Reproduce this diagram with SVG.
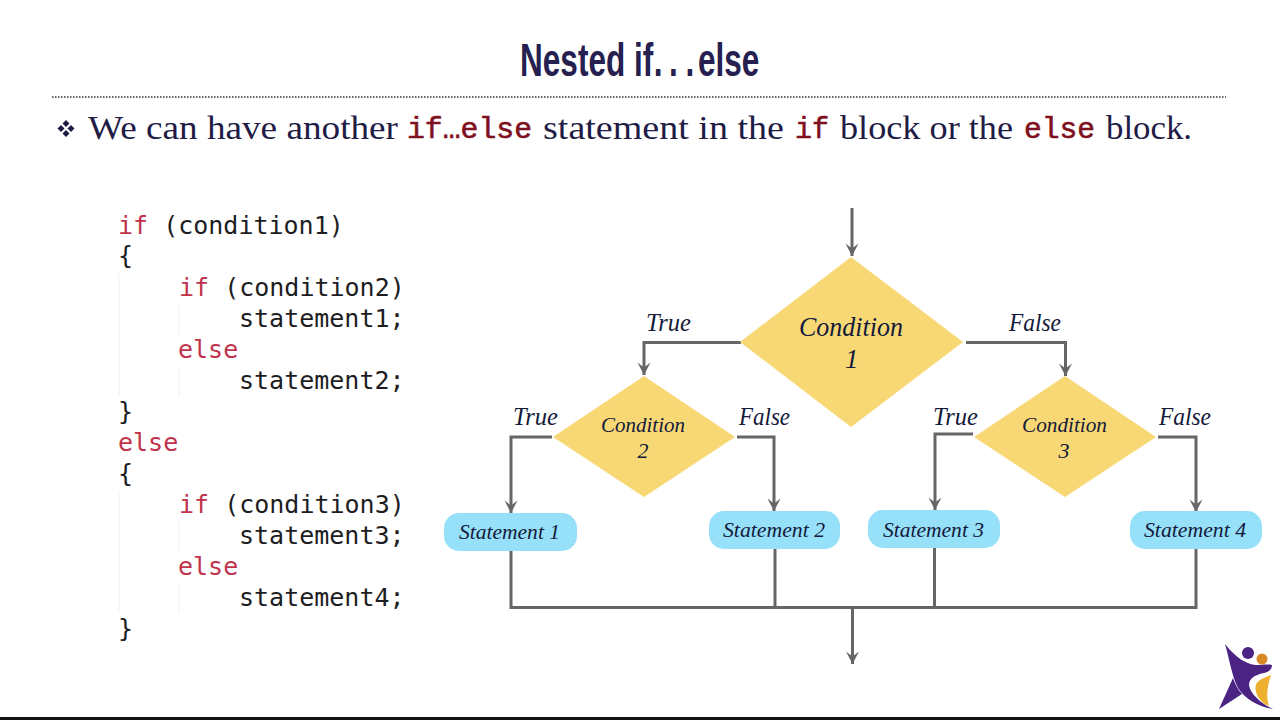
<svg xmlns="http://www.w3.org/2000/svg" width="1280" height="720" viewBox="0 0 1280 720">
<defs>
<marker id="arr" markerUnits="userSpaceOnUse" markerWidth="14" markerHeight="14" refX="13" refY="7" orient="auto" viewBox="0 0 14 14"><path d="M0.500 0.500 L13 7 L0.500 13.500 L5.500 7 Z" fill="#666666"/></marker>
</defs>
<style>
.code{font-family:"DejaVu Sans Mono",monospace;font-size:25px;fill:#1d1d1f}
.kw{fill:#c0334d}
.sub{font-family:"Liberation Serif",serif;font-size:33px;fill:#1f1c46}
.mono{font-family:"Liberation Mono",monospace;font-size:30px;fill:#7f1020;stroke:#7f1020;stroke-width:0.6}
.fl{font-family:"Liberation Serif",serif;font-style:italic;fill:#141a3a}
.lab{font-size:26px}
.c1{font-size:27px}
.c2{font-size:22px}
.st{font-size:21px}
.d{fill:#f8d875}
.s{fill:#97e0fa}
.cn{fill:none;stroke:#666666;stroke-width:3}
.guide{stroke:#f0f0f0;stroke-width:1}
.ttl{font-family:"Liberation Sans",sans-serif;font-weight:bold;font-size:46px;fill:#25204f}
</style>
<rect width="1280" height="720" fill="#ffffff"/>
<rect x="0" y="717" width="1280" height="3" fill="#111111"/>
<g id="title">
<text class="ttl" transform="translate(520 76) scale(0.686 1)" x="0" y="0">Nested if<tspan x="194.800 217.200 241.400">...</tspan><tspan x="259.500">else</tspan></text>
<line x1="52" y1="97" x2="1226" y2="97" stroke="#333333" stroke-width="1.5" stroke-dasharray="1.500 1.500"/>
</g>
<g id="bullet">
<g fill="#1f1c46"><path d="M66 120 l3.500 3.500 l-3.500 3.500 l-3.500 -3.500Z"/><path d="M66 130 l3.500 3.500 l-3.500 3.500 l-3.500 -3.500Z"/><path d="M61 125 l3.500 3.500 l-3.500 3.500 l-3.500 -3.500Z"/><path d="M71 125 l3.500 3.500 l-3.500 3.500 l-3.500 -3.500Z"/></g>
<text class="sub" x="88" y="138.500" textLength="310" lengthAdjust="spacingAndGlyphs">We can have another</text>
<text class="mono" x="407" y="138" textLength="125" lengthAdjust="spacingAndGlyphs">if…else</text>
<text class="sub" x="543" y="138.500" textLength="241" lengthAdjust="spacingAndGlyphs">statement in the</text>
<text class="mono" x="795" y="138" textLength="34" lengthAdjust="spacingAndGlyphs">if</text>
<text class="sub" x="840" y="138.500" textLength="173" lengthAdjust="spacingAndGlyphs">block or the</text>
<text class="mono" x="1024" y="138" textLength="71" lengthAdjust="spacingAndGlyphs">else</text>
<text class="sub" x="1106" y="138.500" textLength="86" lengthAdjust="spacingAndGlyphs">block.</text>
</g>
<g id="code" xml:space="preserve">
<line class="guide" x1="119" y1="273" x2="119" y2="396"/>
<line class="guide" x1="179" y1="305" x2="179" y2="334"/>
<line class="guide" x1="179" y1="367" x2="179" y2="396"/>
<line class="guide" x1="119" y1="490" x2="119" y2="613"/>
<line class="guide" x1="179" y1="522" x2="179" y2="551"/>
<line class="guide" x1="179" y1="584" x2="179" y2="613"/>
<text class="code" x="118" y="234"><tspan class="kw">if</tspan> (condition1)</text>
<text class="code" x="118" y="264">{</text>
<text class="code" x="179" y="296"><tspan class="kw">if</tspan> (condition2)</text>
<text class="code" x="239" y="327">statement1;</text>
<text class="code kw" x="178" y="358">else</text>
<text class="code" x="239" y="389">statement2;</text>
<text class="code" x="118" y="420">}</text>
<text class="code kw" x="118" y="451">else</text>
<text class="code" x="118" y="482">{</text>
<text class="code" x="179" y="513"><tspan class="kw">if</tspan> (condition3)</text>
<text class="code" x="239" y="544">statement3;</text>
<text class="code kw" x="178" y="575">else</text>
<text class="code" x="239" y="606">statement4;</text>
<text class="code" x="118" y="637">}</text>
</g>
<g id="connectors" class="connectors">
<path class="cn" d="M852 208 V256" marker-end="url(#arr)"/>
<path class="cn" d="M741 342.500 H644 V375" marker-end="url(#arr)"/>
<path class="cn" d="M966 342.500 H1065.500 V376" marker-end="url(#arr)"/>
<path class="cn" d="M552 437 H511 V513" marker-end="url(#arr)"/>
<path class="cn" d="M737 437 H774 V511" marker-end="url(#arr)"/>
<path class="cn" d="M973 434 H935 V510" marker-end="url(#arr)"/>
<path class="cn" d="M1158 437 H1196 V512" marker-end="url(#arr)"/>
<path class="cn" d="M511 551 V607.500 H1196 V548"/>
<path class="cn" d="M775 547 V607.500"/>
<path class="cn" d="M934.500 548 V607.500"/>
<path class="cn" d="M852.500 607.500 V664" marker-end="url(#arr)"/>
</g>
<g id="cond1"><polygon class="d" points="851,257 963,342 851,427 740,342"/><text class="fl c1" x="799" y="336" textLength="104" lengthAdjust="spacingAndGlyphs">Condition</text><text class="fl c1" x="845" y="368">1</text></g>
<g id="cond2"><polygon class="d" points="644,376 735,437 644,497 553,437"/><text class="fl c2" x="601" y="432" textLength="84" lengthAdjust="spacingAndGlyphs">Condition</text><text class="fl c2" x="637.500" y="458">2</text></g>
<g id="cond3"><polygon class="d" points="1065,376 1156,437 1065,497 974,437"/><text class="fl c2" x="1022" y="432" textLength="85" lengthAdjust="spacingAndGlyphs">Condition</text><text class="fl c2" x="1058.500" y="458">3</text></g>
<g id="st1"><rect class="s" x="444" y="513" width="133" height="38" rx="15"/><text class="fl st" x="459" y="539" textLength="101" lengthAdjust="spacingAndGlyphs">Statement 1</text></g>
<g id="st2"><rect class="s" x="709" y="511" width="131" height="38" rx="15"/><text class="fl st" x="723" y="537" textLength="102" lengthAdjust="spacingAndGlyphs">Statement 2</text></g>
<g id="st3"><rect class="s" x="868" y="510" width="132" height="38" rx="15"/><text class="fl st" x="883" y="537" textLength="101" lengthAdjust="spacingAndGlyphs">Statement 3</text></g>
<g id="st4"><rect class="s" x="1130" y="511" width="132" height="38" rx="15"/><text class="fl st" x="1144" y="537" textLength="102" lengthAdjust="spacingAndGlyphs">Statement 4</text></g>
<g id="labels">
<text class="fl lab" x="646" y="331" textLength="45" lengthAdjust="spacingAndGlyphs">True</text>
<text class="fl lab" x="1009" y="331" textLength="52" lengthAdjust="spacingAndGlyphs">False</text>
<text class="fl lab" x="513" y="425" textLength="45" lengthAdjust="spacingAndGlyphs">True</text>
<text class="fl lab" x="739" y="425" textLength="51" lengthAdjust="spacingAndGlyphs">False</text>
<text class="fl lab" x="933" y="425" textLength="45" lengthAdjust="spacingAndGlyphs">True</text>
<text class="fl lab" x="1159" y="425" textLength="52" lengthAdjust="spacingAndGlyphs">False</text>
</g>
<g id="logo">
<path fill="#4a2383" d="M1225 644 C1236 658 1246 664 1256 665 C1262 665 1268 664 1272 665 C1272 669 1269 672 1264 673 C1254 675 1249 679 1249 685 C1250 694 1262 704 1273 709 C1258 707 1244 698 1238 688 C1232 676 1230 662 1225 644Z"/>
<path fill="#4a2383" d="M1233 678 C1235 684 1238 690 1242 694 L1219 709 Z"/>
<circle cx="1248" cy="653" r="6" fill="#4a2383"/>
<circle cx="1262" cy="659" r="5.500" fill="#d98a26"/>
<path fill="#eeb02f" d="M1271 675 C1267 687 1266 697 1269 706 C1261 703 1255 695 1255.500 687 C1256 680 1264 678 1271 675Z"/>
</g>
</svg>
